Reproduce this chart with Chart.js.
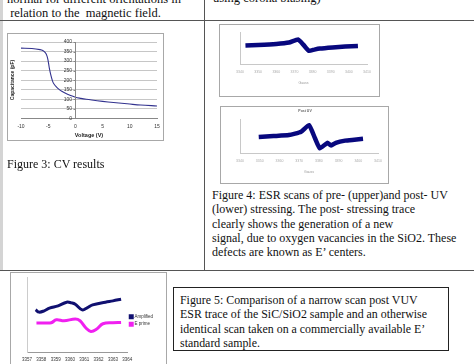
<!DOCTYPE html>
<html>
<head>
<meta charset="utf-8">
<script src="https://cdn.jsdelivr.net/npm/chart.js@4.4.1/dist/chart.umd.min.js"></script>
<style>
  html, body { margin: 0; padding: 0; background: #fff; }
  body { width: 474px; height: 364px; position: relative; overflow: hidden;
         font-family: "Liberation Serif", "Times New Roman", serif; color: #111; }
  .abs { position: absolute; }
  .txt { font-size: 12px; line-height: 14.3px; white-space: pre; }
  .box { position: absolute; border: 1px solid #a8a8a8; background: #fff; }
  .hl { position: absolute; left: 0; width: 474px; height: 1px; background: #555; }
  canvas { position: absolute; }
</style>
</head>
<body>

<div class="abs" style="left:0;top:0;width:3px;height:270px;background:#d4d4d4"></div>
<div class="hl" style="top:20px"></div>
<div class="hl" style="top:270px"></div>
<div class="abs" style="left:204px;top:0;width:1px;height:270px;background:#555"></div>

<div class="abs txt" style="left:7px;top:-8px;font-size:12.5px">normal for different orientations in
 relation to the  magnetic field.</div>
<div class="abs txt" style="left:213px;top:-9px;font-size:12.5px">using corona biasing)</div>

<div class="box" style="left:7px;top:33px;width:155px;height:106px"></div>
<canvas id="cv" width="154" height="105" style="left:8px;top:34px"></canvas>
<div class="abs" style="left:-11px;top:77px;width:46px;text-align:center;font:bold 5px Arial, sans-serif;transform:rotate(-90deg);color:#222">Capacitance (pF)</div>

<div class="abs txt" style="left:7px;top:157px">Figure 3: CV results</div>

<div class="box" style="left:219px;top:24px;width:159px;height:71px"></div>
<canvas id="esr1" width="158" height="70" style="left:220px;top:25px"></canvas>

<div class="box" style="left:220px;top:106px;width:167px;height:76px"></div>
<canvas id="esr2" width="166" height="75" style="left:221px;top:107px"></canvas>

<div class="abs txt" style="left:212px;top:188px">Figure 4: ESR scans of pre- (upper)and post- UV
(lower) stressing. The post- stressing trace
clearly shows the generation of a new
signal, due to oxygen vacancies in the SiO2. These
defects are known as E’ centers.</div>

<div class="box" style="left:10px;top:272px;width:155px;height:100px"></div>
<canvas id="cmp" width="154" height="89" style="left:11px;top:275px"></canvas>

<div class="abs txt" style="left:173px;top:287px;width:268px;height:57px;border:1px solid #222;padding:5px 0 0 6px;font-size:11.9px">Figure 5: Comparison of a narrow scan post VUV
ESR trace of the SiC/SiO2 sample and an otherwise
identical scan taken on a commercially available E’
standard sample.</div>

<script>
// Figure 3: CV curve
var voltage = [-10, -8, -6.5, -6, -5.5, -5.2, -5, -4.8, -4.5, -4.2, -4, -3.5, -3, -2.5, -2, -1, 0, 1, 2, 3, 5, 7, 10, 12, 15];
var capacitance = [368, 366, 360, 355, 343, 325, 300, 265, 225, 195, 183, 165, 152, 142, 134, 121, 111, 105, 100, 96, 89, 83, 75, 70, 65];

// Figure 4: ESR scans, pre-UV (upper) and post-UV (lower)
var preField = [3343, 3350, 3360, 3367, 3372, 3375, 3378, 3381, 3384, 3391, 3398, 3405];
var preSignal = [22.3, 22.8, 24, 25.7, 29.3, 23, 16, 17.5, 18.7, 20, 21, 21.7];
var postField = [3349.5, 3357, 3364.8, 3371, 3375, 3378, 3380.5, 3384.3, 3386.2, 3388.6, 3393.3, 3398, 3402.4];
var postSignal = [15, 15.8, 16.7, 19.7, 25.7, 14, 4.7, 9.7, 7.3, 9.7, 11.7, 12.5, 13.3];
var esrTicks = [3340, 3350, 3360, 3370, 3380, 3390, 3400, 3410];

// Figure 5: narrow scan comparison
var ampField = [3357.6, 3357.84, 3358.2, 3358.57, 3359.17, 3359.77, 3360.1, 3360.37, 3360.86, 3361.2, 3361.58, 3362.48, 3363, 3363.57];
var ampSignal = [43, 40.7, 42, 44.7, 47, 50.7, 50, 48.7, 43, 45, 48, 50.7, 52, 53.7];
var eField = [3357.66, 3358.2, 3358.69, 3359.05, 3359.59, 3360.37, 3360.7, 3361.1, 3361.46, 3361.9, 3362.3, 3363, 3363.57];
var eSignal = [29.7, 29.8, 30, 33, 32, 33.7, 32, 25, 21.3, 24, 29, 30, 30.3];

function pairs(xs, ys) {
  return xs.map(function (x, i) { return { x: x, y: ys[i] }; });
}
function plain(v) { return String(v); }

Chart.defaults.font.family = "Arial, 'Liberation Sans', sans-serif";
Chart.defaults.animation = false;
Chart.defaults.responsive = false;
Chart.defaults.plugins.legend.display = false;
Chart.defaults.plugins.tooltip.enabled = false;

// y axis of the CV plot crosses at V = 0, like the Excel original
var zeroAxis = {
  id: "zeroAxis",
  afterDatasetsDraw: function (chart) {
    var ctx = chart.ctx, xs = chart.scales.x, ys = chart.scales.y;
    var px = Math.round(xs.getPixelForValue(0)) + 0.5;
    ctx.save();
    ctx.strokeStyle = "#888";
    ctx.lineWidth = 1;
    ctx.beginPath();
    ctx.moveTo(px, ys.top);
    ctx.lineTo(px, ys.bottom);
    ys.ticks.forEach(function (t) {
      var py = Math.round(ys.getPixelForValue(t.value)) + 0.5;
      ctx.moveTo(px - 2, py);
      ctx.lineTo(px, py);
    });
    ctx.stroke();
    ctx.fillStyle = "#333";
    ctx.font = "5px Arial, sans-serif";
    ctx.textAlign = "right";
    ctx.textBaseline = "middle";
    ys.ticks.forEach(function (t) {
      ctx.fillText(t.label, px - 3.5, ys.getPixelForValue(t.value));
    });
    ctx.restore();
  }
};

new Chart(document.getElementById("cv"), {
  type: "line",
  data: { datasets: [{
    data: pairs(voltage, capacitance),
    borderColor: "#33338f", borderWidth: 1.1, pointRadius: 0, tension: 0.35
  }]},
  options: {
    layout: { padding: { left: 13, right: 5, top: 8, bottom: 0 } },
    scales: {
      x: { type: "linear", min: -10, max: 15,
           ticks: { stepSize: 5, font: { size: 5 }, color: "#333", padding: 2, maxRotation: 0 },
           grid: { display: false, drawTicks: true, tickLength: 3, color: "#888" },
           border: { color: "#888" },
           title: { display: true, text: "Voltage (V)", font: { size: 5.5, weight: "bold" }, color: "#222", padding: { top: 1, bottom: 0 } } },
      y: { min: 0, max: 400,
           ticks: { stepSize: 50, display: false },
           grid: { color: "#b8b8b8", drawTicks: false, lineWidth: 0.8 },
           border: { display: false } }
    }
  },
  plugins: [zeroAxis]
});

function esrOptions(pad, titleText) {
  return {
    layout: { padding: pad },
    plugins: { title: { display: !!titleText, text: titleText, font: { size: 3.5, weight: "bold" }, color: "#666", padding: { top: 2, bottom: 6 } } },
    scales: {
      x: { type: "linear", min: 3340, max: 3410,
           afterBuildTicks: function (s) { s.ticks = esrTicks.map(function (v) { return { value: v }; }); },
           ticks: { font: { size: 3.5 }, color: "#aaa", padding: 3, maxRotation: 0, autoSkip: false, callback: plain },
           grid: { display: false, tickLength: 2, color: "#ccc" },
           border: { color: "#c8c8c8" },
           title: { display: true, text: "Gauss", font: { size: 3.5 }, color: "#999", padding: { top: 4, bottom: 0 } } },
      y: { min: 0, max: 38, ticks: { display: false }, grid: { display: false }, border: { color: "#c8c8c8" } }
    }
  };
}

new Chart(document.getElementById("esr1"), {
  type: "line",
  data: { datasets: [{
    data: pairs(preField, preSignal),
    borderColor: "#08087e", borderWidth: 4.5, pointRadius: 0, tension: 0.15
  }]},
  options: esrOptions({ left: 12, right: 11, top: 7, bottom: 10 }, "")
});

var post = esrOptions({ left: 11, right: 9, top: 0, bottom: 8 }, "Post UV");
post.scales.y.max = 31;
new Chart(document.getElementById("esr2"), {
  type: "line",
  data: { datasets: [{
    data: pairs(postField, postSignal),
    borderColor: "#08087e", borderWidth: 4.5, pointRadius: 0, tension: 0.15
  }]},
  options: post
});

new Chart(document.getElementById("cmp"), {
  type: "line",
  data: { datasets: [
    { label: "Amplified", data: pairs(ampField, ampSignal), borderColor: "#101070", backgroundColor: "#101070",
      borderWidth: 3, pointRadius: 0, tension: 0.4 },
    { label: "E prime", data: pairs(eField, eSignal), borderColor: "#f020f0", backgroundColor: "#f020f0",
      borderWidth: 3, pointRadius: 0, tension: 0.4 }
  ]},
  options: {
    layout: { padding: { left: 8, right: 2, top: 2, bottom: 0 } },
    plugins: { legend: { display: true, position: "right",
      labels: { usePointStyle: true, pointStyle: "rect", boxWidth: 2, boxHeight: 2, padding: 3,
                font: { size: 4.5 }, color: "#333" } } },
    scales: {
      x: { type: "linear", min: 3357, max: 3364,
           ticks: { stepSize: 1, font: { size: 4.5 }, color: "#333", padding: 2, maxRotation: 0, minRotation: 0, autoSkip: false, callback: plain },
           grid: { display: false, tickLength: 2, color: "#999" },
           border: { color: "#999" } },
      y: { min: 0, max: 76, ticks: { display: false }, grid: { display: false }, border: { color: "#ccc" } }
    }
  }
});
</script>
</body>
</html>
